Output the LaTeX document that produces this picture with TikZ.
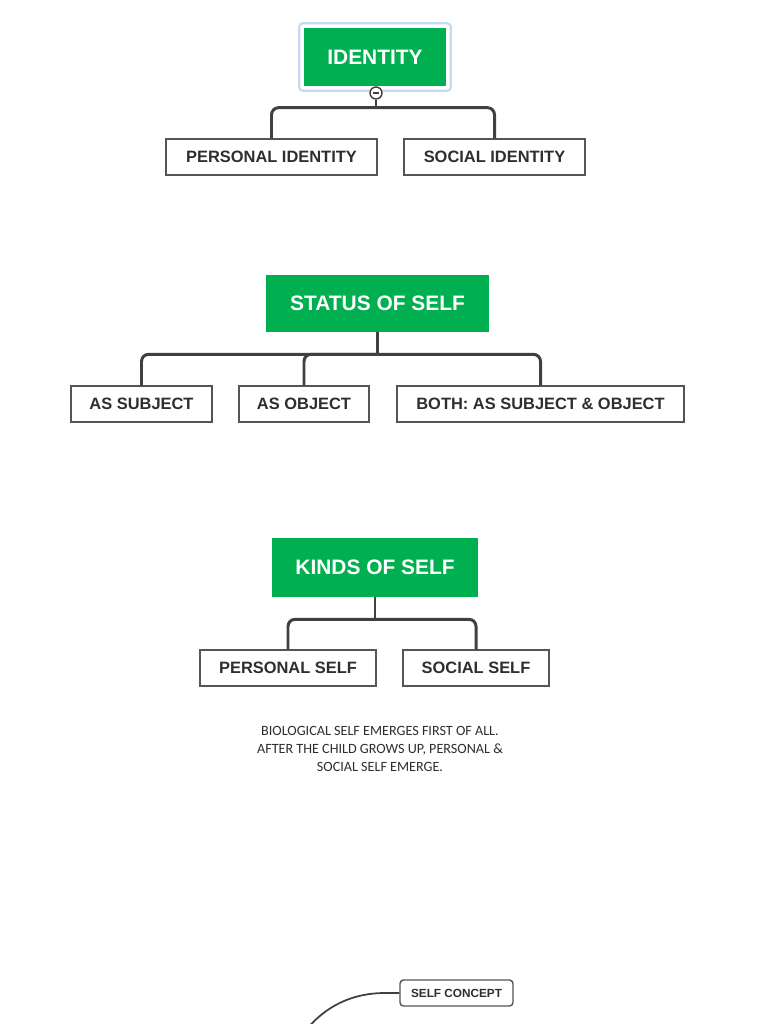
\documentclass[tikz,border=0pt]{standalone}
\usepackage{fontspec}
\setmainfont{Liberation Sans}
\newfontfamily\notefont{Carlito}
\usepackage{xcolor}
\usetikzlibrary{positioning, fit}
\definecolor{hdGreen}{HTML}{00B050}
\definecolor{lnGray}{HTML}{404040}
\definecolor{bxGray}{HTML}{555555}
\definecolor{txDark}{HTML}{2E2E2E}
\definecolor{selBlue}{HTML}{C6D9F1}
\tikzset{
  headbox/.style={
    fill=hdGreen, draw=none, text=white,
    font=\bfseries\fontsize{11.9}{14}\selectfont,
    minimum width=#1, minimum height=1.16cm, inner sep=0pt
  },
  leafbox/.style={
    draw=bxGray, line width=0.8pt, fill=white, text=txDark,
    font=\bfseries\fontsize{9.35}{11}\selectfont,
    minimum width=#1, minimum height=0.72cm, inner sep=0pt
  },
  stem/.style={draw=lnGray, line width=1.7pt},
  link/.style={draw=lnGray, line width=1.7pt, rounded corners=4pt},
  selring/.style={draw=selBlue, line width=1.2pt, rounded corners=2pt},
  toggle/.style={circle, draw=lnGray, line width=0.8pt, fill=white,
    minimum size=0.24cm, inner sep=0pt}
}

\begin{document}
\begin{tikzpicture}[x=0.02cm, y=-0.02cm]
\fill[white] (0,0) rectangle (768,1024);
\clip (0,0) rectangle (768,1024);

% identity
\node[headbox=2.84cm] (identity) at (375,57) {IDENTITY};
\node[selring, fit=(identity), inner sep=2.5pt] (identsel) {};
\node[leafbox=4.22cm] (pid) at (271.5,157) {PERSONAL IDENTITY};
\node[leafbox=3.62cm] (sid) at (494.5,157) {SOCIAL IDENTITY};
\node[toggle] (tog) at (376,93) {};
\draw[lnGray, line width=0.9pt] ([shift={(-3,0)}]tog.center) -- ([shift={(3,0)}]tog.center);

\draw[stem] (tog.south) -- ++(0,8) coordinate (idhub);
\draw[link] (idhub) -| (pid.north);
\draw[link] (idhub) -| (sid.north);

% status of self
\node[headbox=4.46cm, minimum height=1.14cm] (status) at (377.5,303.5) {STATUS OF SELF};
\node[leafbox=2.82cm] (subj) at (141.5,404) {AS SUBJECT};
\node[leafbox=2.6cm] (obj) at (304,404) {AS OBJECT};
\node[leafbox=5.74cm] (both) at (540.5,404) {BOTH: AS SUBJECT \& OBJECT};

\draw[stem] (status.south) -- ++(0,22) coordinate (sthub);
\draw[link] (sthub) -| (subj.north);
\draw[link] (sthub) -| (obj.north);
\draw[link] (sthub) -| (both.north);

% kinds of self
\node[headbox=4.12cm, minimum height=1.18cm] (kinds) at (375,567.5) {KINDS OF SELF};
\node[leafbox=3.52cm] (pself) at (288,668) {PERSONAL SELF};
\node[leafbox=2.92cm] (sself) at (476,668) {SOCIAL SELF};

\draw[stem] (kinds.south) -- ++(0,22) coordinate (kdhub);
\draw[link] (kdhub) -| (pself.north);
\draw[link] (kdhub) -| (sself.north);

\node[align=center, text=txDark, font=\notefont\fontsize{8.05}{10.2}\selectfont] (note) at (380,749)
  {BIOLOGICAL SELF EMERGES FIRST OF ALL.\\AFTER THE CHILD GROWS UP, PERSONAL \&\\SOCIAL SELF EMERGE.};

% self concept
\node[leafbox=2.26cm, minimum height=0.52cm, rounded corners=2pt,
  font=\bfseries\fontsize{6.7}{8}\selectfont] (concept) at (456.5,993) {SELF CONCEPT};
\coordinate (tail) at (306,1030);
\draw[draw=lnGray, line width=1pt] (concept.west) -- ++(-14,0)
  .. controls (352,993) and (326,1006) .. (tail);

\end{tikzpicture}
\end{document}
